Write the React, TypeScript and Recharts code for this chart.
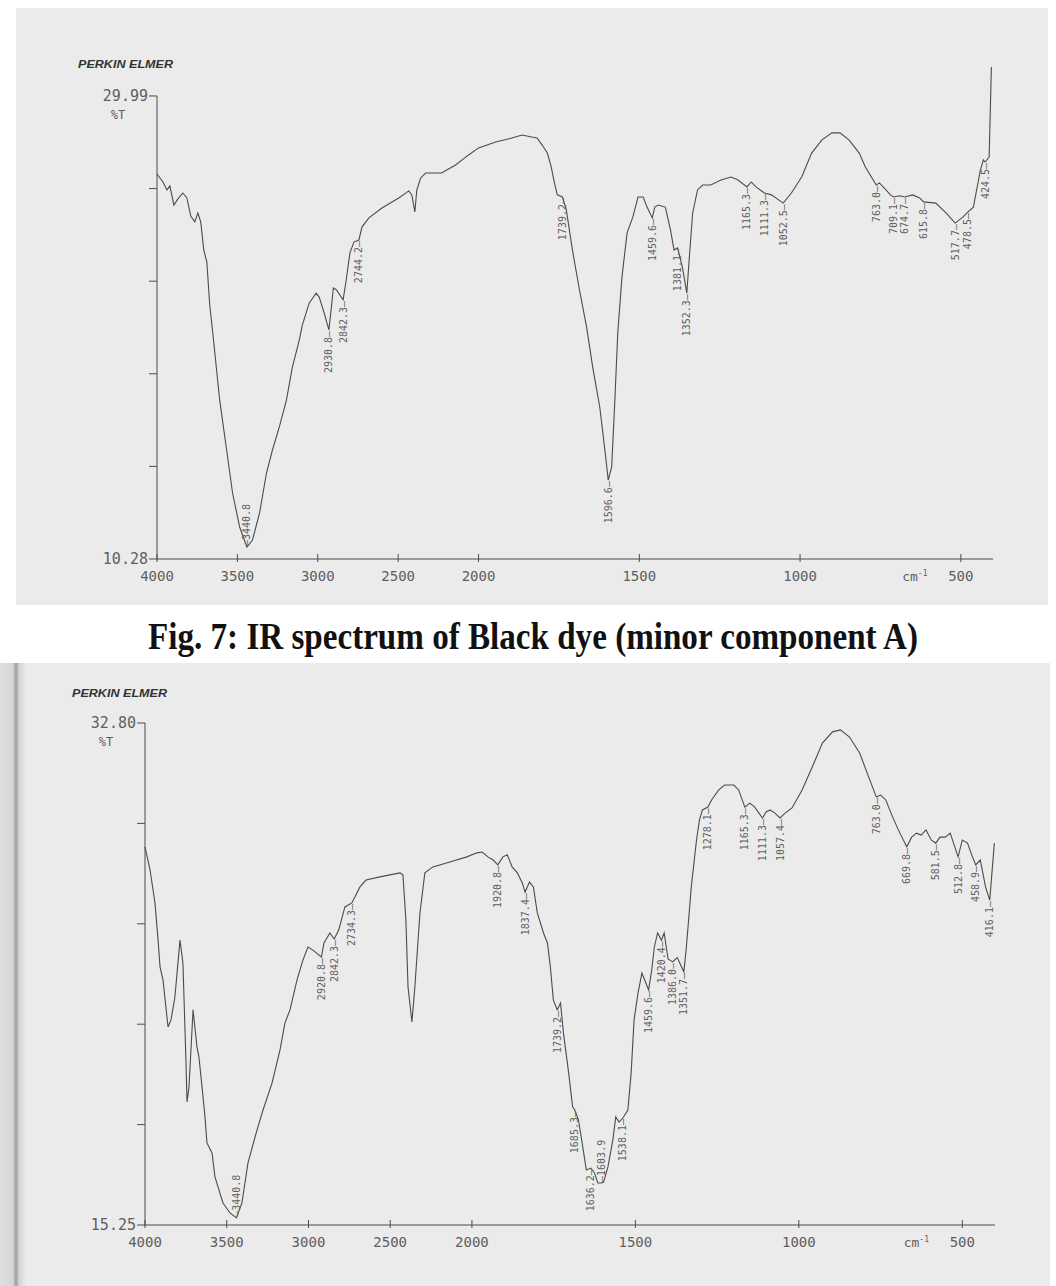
import { ComposedChart, Line, ReferenceLine, Scatter, XAxis, YAxis } from "recharts";

// Fig. 7 — Black dye, minor component A (upper trace)
const TOP_WN = [
  4000, 3963, 3938, 3920, 3895, 3870, 3839, 3814, 3790, 3765, 3746, 3728, 3709, 3690, 3672, 3653,
  3610, 3567, 3530, 3486, 3440.8, 3406, 3362, 3319, 3282, 3239, 3195, 3158, 3115, 3096, 3053, 3010,
  2991, 2960, 2930.8, 2915, 2903, 2884, 2842.3, 2825, 2800, 2775, 2744.2, 2725, 2682, 2601, 2496,
  2434, 2415, 2396, 2384, 2360, 2329, 2230, 2143, 2062, 2000, 1947, 1896, 1865, 1834, 1818, 1802,
  1786, 1774, 1764, 1755, 1739.2, 1727, 1708, 1686, 1664, 1645, 1623, 1606, 1596.6, 1586, 1576,
  1567, 1554, 1538, 1520, 1504, 1488, 1476, 1459.6, 1452, 1441, 1419, 1403, 1392, 1381.1, 1366,
  1352.3, 1345, 1334, 1319, 1303, 1278, 1246, 1215, 1193, 1165.3, 1152, 1137, 1111.3, 1089, 1052.5,
  1027, 995, 964, 932, 901, 876, 848, 816, 797, 763, 753, 738, 719, 709.1, 690, 674.7, 650, 628,
  615.8, 578, 546, 517.7, 493, 478.5, 461, 448, 439, 430, 424.5, 412, 405,
];
const TOP_T = [
  26.67, 26.33, 25.99, 26.16, 25.35, 25.61, 25.86, 25.65, 24.88, 24.63, 25.01, 24.63, 23.43, 22.92, 21.09, 19.9,
  17.04, 14.92, 13.09, 11.64, 10.79, 11.09, 12.24, 13.94, 14.92, 15.9, 17.04, 18.45, 19.6, 20.24, 21.18, 21.6,
  21.43, 20.75, 20.03, 21.01, 21.82, 21.73, 21.31, 22.07, 23.31, 23.77, 23.86, 24.41, 24.8, 25.22, 25.65,
  25.95, 25.78, 25.05, 25.99, 26.5, 26.71, 26.71, 27.05, 27.48, 27.78, 28.03, 28.2, 28.33, 28.24, 28.2, 27.9,
  27.56, 26.97, 26.29, 25.78, 25.69, 25.14, 23.43, 21.73, 20.16, 18.45, 16.75, 14.79, 13.64, 14.2, 17.04,
  19.9, 22.28, 24.16, 24.84, 25.69, 25.69, 25.26, 24.8, 25.26, 25.35, 25.26, 24.29, 23.43, 23.52, 22.71,
  21.6, 23.01, 25.01, 25.99, 26.2, 26.2, 26.41, 26.54, 26.41, 26.12, 26.33, 26.12, 25.86, 25.78, 25.43,
  25.86, 26.54, 27.56, 28.12, 28.42, 28.42, 28.12, 27.56, 26.97, 26.2, 26.29, 26.07, 25.78, 25.69, 25.74, 25.69, 25.78, 25.65,
  25.48, 25.43, 25.01, 24.58, 24.84, 25.05, 25.26, 26.2, 26.84, 27.27, 27.18, 27.39, 31.22,
];
const TOP_PEAKS = [
  3440.8, 2930.8, 2842.3, 2744.2, 1739.2, 1596.6, 1459.6, 1381.1, 1352.3, 1165.3, 1111.3, 1052.5,
  763, 709.1, 674.7, 615.8, 517.7, 478.5, 424.5,
];
const TOP_PEAKS_ABOVE = [3440.8];

// lower trace
const BOT_WN = [
  4000, 3969, 3939, 3920, 3908, 3890, 3859, 3841, 3817, 3786, 3768, 3749, 3743, 3731, 3706, 3682, 3670,
  3651, 3633, 3621, 3590, 3572, 3523, 3480, 3440.8, 3407, 3370, 3315, 3278, 3223, 3174, 3144, 3113,
  3070, 3034, 3003, 2973, 2920.8, 2905, 2869, 2842.3, 2815, 2777, 2734.3, 2685, 2648, 2563, 2440, 2422,
  2404, 2391, 2367, 2349, 2318, 2288, 2239, 2135, 2031, 1985, 1969, 1951, 1935, 1920.8, 1905, 1892,
  1877, 1861, 1846, 1837.4, 1824, 1812, 1800, 1781, 1769, 1760, 1751, 1739.2, 1729, 1720, 1704, 1692,
  1685.3, 1674, 1661, 1650, 1636.2, 1625, 1615, 1603.9, 1597, 1584, 1569, 1560, 1550, 1538.1, 1523,
  1513, 1504, 1492, 1480, 1459.6, 1450, 1442, 1432, 1420.4, 1412, 1400, 1386, 1372, 1351.7, 1344, 1329,
  1313, 1304, 1295, 1278.1, 1267, 1245, 1227, 1199, 1184, 1165.3, 1150, 1135, 1111.3, 1100, 1088, 1073,
  1057.4, 1042, 1021, 990, 959, 928, 897, 873, 845, 814, 783, 763, 750, 734, 713, 691, 669.8, 655, 640,
  626, 611, 595, 581.5, 568, 552, 537, 523, 512.8, 500, 484, 469, 458.9, 445, 429, 416.1, 402,
];
const BOT_T = [
  28.47, 27.66, 26.51, 25.21, 24.27, 23.82, 22.17, 22.42, 23.22, 25.21, 24.41, 20.91, 19.55, 20.07, 22.77, 21.47, 21.12,
  20.07, 19.03, 18.12, 17.77, 16.93, 16.02, 15.67, 15.5, 16.02, 17.42, 18.57, 19.27, 20.21, 21.37, 22.31, 22.77,
  23.82, 24.51, 24.97, 24.86, 24.62, 25.11, 25.46, 25.25, 25.56, 26.37, 26.51, 27.07, 27.31, 27.42, 27.56, 27.49,
  25.91, 23.57, 22.35, 23.57, 26.16, 27.56, 27.77, 27.94, 28.12, 28.26, 28.29, 28.12, 28.01, 27.84, 28.12, 28.19,
  27.77, 27.56, 27.21, 26.89, 27.24, 27.07, 26.16, 25.46, 25.11, 24.27, 23.12, 22.77, 23.01, 21.96, 20.56, 19.38,
  19.27, 18.92, 17.98, 17.17, 17.24, 17.07, 16.72, 16.72, 16.75, 17.28, 18.22, 19.03, 18.85, 18.99, 19.27,
  20.56, 22.42, 23.36, 24.06, 23.47, 24.16, 24.97, 25.46, 25.21, 25.46, 24.55, 24.45, 24.6, 24.1, 24.97, 27.07,
  28.71, 29.41, 29.76, 29.86, 30.11, 30.46, 30.63, 30.63, 30.46, 29.86, 30.0, 29.86, 29.48, 29.69, 29.76, 29.65,
  29.48, 29.65, 29.83, 30.46, 31.26, 32.1, 32.49, 32.56, 32.31, 31.75, 30.81, 30.21, 30.28, 30.11, 29.51, 28.95, 28.47, 28.81, 28.95,
  28.88, 29.06, 28.71, 28.6, 28.81, 28.81, 28.95, 28.47, 28.12, 28.71, 28.6, 28.12, 27.84, 28.01, 27.07, 26.61, 28.6,
];
const BOT_PEAKS = [
  3440.8, 2920.8, 2842.3, 2734.3, 1920.8, 1837.4, 1739.2, 1685.3, 1636.2, 1603.9, 1538.1, 1459.6,
  1420.4, 1386, 1351.7, 1278.1, 1165.3, 1111.3, 1057.4, 763, 669.8, 581.5, 512.8, 458.9, 416.1,
];
const BOT_PEAKS_ABOVE = [3440.8, 1603.9];

const WN_TICKS = [4000, 3500, 3000, 2500, 2000, 1500, 1000, 500];

const INK = "#4b4b4b";
const TEXT = "#5e5e5e";
const PAPER = "#ebebeb";
const MONO = "'DejaVu Sans Mono', 'Liberation Mono', monospace";
const Y_AXIS_W = 60;
const X_AXIS_H = 40;

// the recorder halves the wavenumber scale below 2000 cm-1
function chartX(wn: number) {
  return wn >= 2000 ? 4000 - wn : 2000 + 2 * (2000 - wn);
}
function wnFromX(x: number) {
  return x <= 2000 ? 4000 - x : 2000 - (x - 2000) / 2;
}

function XTick({ x, y, payload }: any) {
  const wn = Math.round(wnFromX(payload.value));
  return (
    <g>
      <line x1={x} x2={x} y1={y - 5} y2={y + 3} stroke={INK} />
      <text x={x} y={y + 22} textAnchor="middle" fill={TEXT} fontSize={14} fontFamily={MONO}>
        {wn}
      </text>
      {wn === 500 && (
        <text x={x - 46} y={y + 22} textAnchor="middle" fill={TEXT} fontSize={13} fontFamily={MONO}>
          cm
          <tspan dy={-5} fontSize={8}>
            -1
          </tspan>
        </text>
      )}
    </g>
  );
}

function makeYTick(yMin: number, yMax: number) {
  return function YTick({ x, y, payload }: any) {
    const v = payload.value;
    const isMin = Math.abs(v - yMin) < 1e-6;
    const isMax = Math.abs(v - yMax) < 1e-6;
    return (
      <g>
        <line x1={x - 8} x2={x} y1={y} y2={y} stroke={INK} />
        {(isMin || isMax) && (
          <text x={x - 9} y={y} dy="0.36em" textAnchor="end" fill={TEXT} fontSize={15} fontFamily={MONO}>
            {v.toFixed(2)}
          </text>
        )}
        {isMax && (
          <text x={x - 39} y={y + 23} textAnchor="middle" fill={TEXT} fontSize={12} fontFamily={MONO}>
            %T
          </text>
        )}
      </g>
    );
  };
}

function PeakLabel({ cx, cy, payload }: any) {
  if (cx == null || cy == null) return null;
  const common = {
    fill: TEXT,
    fontSize: 10,
    fontFamily: MONO,
    dominantBaseline: "central" as const,
  };
  if (payload.above) {
    const y0 = cy - 1;
    return (
      <text x={cx} y={y0} textAnchor="start" transform={`rotate(-90 ${cx} ${y0})`} {...common}>
        {"\u2014" + payload.label}
      </text>
    );
  }
  const y0 = cy + 1;
  return (
    <text x={cx} y={y0} textAnchor="end" transform={`rotate(-90 ${cx} ${y0})`} {...common}>
      {payload.label + "\u2014"}
    </text>
  );
}

type SpectrumProps = {
  wn: number[];
  t: number[];
  peaks: number[];
  peaksAbove: number[];
  yMin: number;
  yMax: number;
  yTop: number;
  width: number;
  height: number;
  plot: { top: number; right: number; bottom: number; left: number };
};

function Spectrum({ wn, t, peaks, peaksAbove, yMin, yMax, yTop, width, height, plot }: SpectrumProps) {
  const rows = wn.map((w, i) => ({ x: chartX(w), t: t[i] }));
  const marks = peaks.map((w) => ({
    x: chartX(w),
    t: t[wn.indexOf(w)],
    label: w.toFixed(1),
    above: peaksAbove.includes(w),
  }));
  const yTicks = [0, 1, 2, 3, 4, 5].map((k) => yMin + ((yMax - yMin) * k) / 5);
  // plot edges are given in pixels; the axes take their own room out of the margin
  const margin = {
    top: plot.top,
    right: plot.right,
    bottom: plot.bottom - X_AXIS_H,
    left: plot.left - Y_AXIS_W,
  };
  return (
    <ComposedChart width={width} height={height} margin={margin} data={rows}>
      <XAxis
        type="number"
        dataKey="x"
        domain={[0, 5200]}
        ticks={WN_TICKS.map(chartX)}
        interval={0}
        tick={XTick}
        tickLine={false}
        tickSize={0}
        tickMargin={0}
        height={X_AXIS_H}
        axisLine={{ stroke: INK }}
      />
      <YAxis
        type="number"
        dataKey="t"
        domain={[yMin, yTop]}
        ticks={yTicks}
        interval={0}
        tick={makeYTick(yMin, yMax)}
        tickLine={false}
        tickSize={0}
        tickMargin={0}
        width={Y_AXIS_W}
        axisLine={false}
      />
      <ReferenceLine
        segment={[
          { x: 0, y: yMin },
          { x: 0, y: yMax },
        ]}
        stroke={INK}
      />
      <Line type="linear" dataKey="t" stroke={INK} strokeWidth={1.1} dot={false} isAnimationActive={false} />
      <Scatter data={marks} dataKey="t" shape={PeakLabel} isAnimationActive={false} />
    </ComposedChart>
  );
}

function Brand({ left, top }: { left: number; top: number }) {
  return (
    <svg width={110} height={16} style={{ position: "absolute", left, top }}>
      <text
        x={1}
        y={12}
        fontFamily="'Liberation Sans', Arial, sans-serif"
        fontWeight="bold"
        fontStyle="italic"
        fontSize={11}
        fill="#333"
        textLength={95}
        lengthAdjust="spacingAndGlyphs"
      >
        PERKIN ELMER
      </text>
    </svg>
  );
}

export default function App() {
  return (
    <div style={{ position: "absolute", left: 0, top: 0, width: 1056, height: 1286, background: "#fff", overflow: "hidden" }}>
      <div style={{ position: "absolute", left: 16, top: 8, width: 1032, height: 597, background: PAPER }} />
      <div
        style={{
          position: "absolute",
          left: 0,
          top: 663,
          width: 1050,
          height: 623,
          background: `linear-gradient(to right, #dedede 0px, #d6d6d6 13px, #9c9c9c 16px, #d4d4d4 19px, ${PAPER} 26px)`,
        }}
      />
      <Brand left={77} top={56} />
      <Brand left={71} top={685} />
      <div style={{ position: "absolute", left: 0, top: 0 }}>
        <Spectrum
          wn={TOP_WN}
          t={TOP_T}
          peaks={TOP_PEAKS}
          peaksAbove={TOP_PEAKS_ABOVE}
          yMin={10.28}
          yMax={29.99}
          yTop={31.5}
          width={1056}
          height={610}
          plot={{ top: 60.5, right: 63, bottom: 51, left: 157 }}
        />
      </div>
      <svg width={1056} height={58} style={{ position: "absolute", left: 0, top: 605 }}>
        <text
          x={533}
          y={44}
          textAnchor="middle"
          fontFamily="'Liberation Serif', 'Times New Roman', serif"
          fontWeight="bold"
          fontSize={38}
          fill="#111"
          textLength={770}
          lengthAdjust="spacingAndGlyphs"
        >
          Fig. 7: IR spectrum of Black dye (minor component A)
        </text>
      </svg>
      <div style={{ position: "absolute", left: 0, top: 660 }}>
        <Spectrum
          wn={BOT_WN}
          t={BOT_T}
          peaks={BOT_PEAKS}
          peaksAbove={BOT_PEAKS_ABOVE}
          yMin={15.25}
          yMax={32.8}
          yTop={32.8}
          width={1056}
          height={626}
          plot={{ top: 63, right: 61, bottom: 61, left: 145 }}
        />
      </div>
    </div>
  );
}
